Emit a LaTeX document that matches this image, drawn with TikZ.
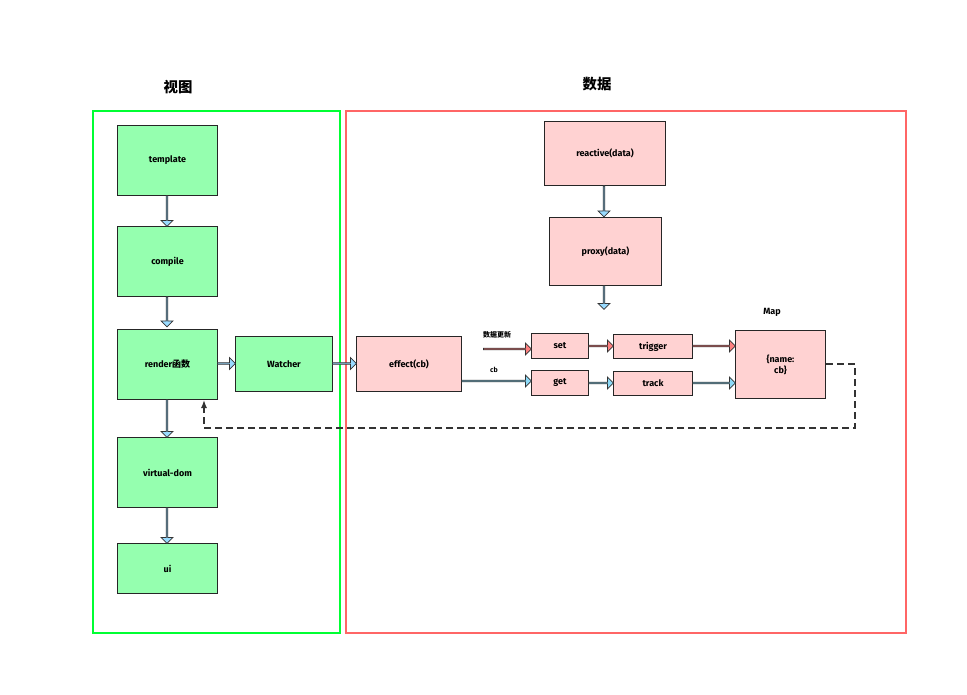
\documentclass[tikz,border=0pt]{standalone}
\usepackage{fontspec}
\setmainfont{Fira Sans}
\newfontfamily\cjk{Noto Sans CJK SC}
\usetikzlibrary{shapes.arrows,arrows.meta}
\begin{document}
\begin{tikzpicture}[x=1pt,y=-1pt,
 box/.style={draw=black!85,line width=1pt,anchor=north west,inner sep=0pt,font=\small\bfseries},
 g/.style={box,fill=green!35!white!90!cyan},
 p/.style={box,fill=pink!70!white},
 fat/.style={single arrow,draw=black!80,line width=0.8pt,inner sep=0pt,minimum width=12pt,single arrow head extend=2.5pt,single arrow head indent=0pt},
 bl/.style={fat,fill=blue!35!cyan!40!white},
 rd/.style={fat,fill=red!50!white},
 cy/.style={fat,fill=cyan!45!white}]
\useasboundingbox (0,0) rectangle (967,694);
\node[font=\cjk\Large\bfseries] (t1) at (178,87) {视图};
\node[font=\cjk\Large\bfseries] (t2) at (597,84) {数据};
\draw[green!80!cyan,line width=1.8pt] (93,111) rectangle (340,633);
\draw[red!60!white,line width=1.2pt] (346,111) rectangle (906,633);
\newcommand\bx[7]{\node[#1,minimum width=#4pt,minimum height=#5pt] (#6) at (#2,#3) {#7};}
\bx{g}{117}{125}{100}{70}{tpl}{template}
\bx{g}{117}{226}{100}{70}{cmp}{compile}
\bx{g}{117}{329}{100}{70}{rnd}{render{\cjk 函数}}
\bx{g}{117}{437}{100}{70}{vd}{virtual-dom}
\bx{g}{117}{543}{100}{50}{ui}{ui}
\bx{g}{235}{336}{97}{55}{wat}{Watcher}
\bx{p}{356}{336}{105}{55}{eff}{effect(cb)}
\bx{p}{544}{121}{121}{64}{rea}{reactive(data)}
\bx{p}{549}{217}{112}{68}{prx}{proxy(data)}
\bx{p}{531}{333}{57}{25}{set}{set}
\bx{p}{613}{334}{79}{24}{trg}{trigger}
\bx{p}{531}{370}{57}{25}{get}{get}
\bx{p}{613}{371}{79}{24}{trk}{track}
\node[box,fill=pink!70!white,minimum width=90pt,minimum height=68pt,align=center] (map) at (735,330) {\{name:\\cb\}};
\node[font=\small\bfseries] (maplbl) at (772,312) {Map};
\node[font=\cjk\scriptsize\bfseries] (upd) at (497,335) {数据更新};
\node[font=\scriptsize\bfseries] (cbl) at (494,370) {cb};
% vertical arrows
\node[bl,rotate=-90,minimum height=31pt] (a1) at (167,210.5) {};
\node[bl,rotate=-90,minimum height=30pt] (a2) at (167,311.5) {};
\node[bl,rotate=-90,minimum height=38pt] (a3) at (167,418) {};
\node[bl,rotate=-90,minimum height=36pt] (a4) at (167,525) {};
\node[bl,rotate=-90,minimum height=31pt] (a5) at (604,201) {};
\node[bl,rotate=-90,minimum height=24pt] (a6) at (604,297) {};
% horizontal
\node[bl,minimum height=18pt] (a7) at (226,363.5) {};
\node[bl,minimum height=24pt] (a8) at (344,363.5) {};
\node[rd,minimum height=48pt] (a9) at (507,349) {};
\node[rd,minimum height=25pt] (a10) at (600.5,346) {};
\node[rd,minimum height=43pt] (a11) at (713.5,346) {};
\node[cy,minimum height=70pt] (a12) at (496,381) {};
\node[cy,minimum height=25pt] (a13) at (600.5,383) {};
\node[cy,minimum height=43pt] (a14) at (713.5,383) {};
\coordinate (c1) at (855,364);
\coordinate (c2) at (855,428);
\coordinate (c3) at (204,428);
\draw[dashed,line width=1.3pt,black!80,dash pattern=on 7pt off 4pt,-{Latex[length=8pt,width=6pt]}] (map.east|-c1) -- (c1) -- (c2) -- (c3) -- (c3|-rnd.south);
\end{tikzpicture}
\end{document}
